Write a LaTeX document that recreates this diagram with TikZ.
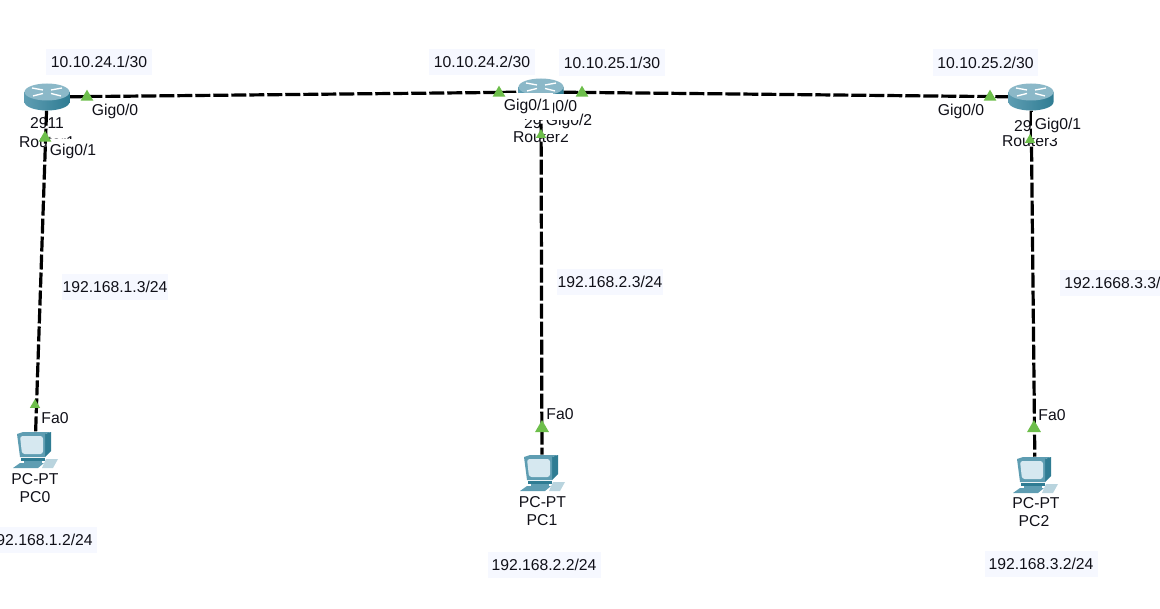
\documentclass[tikz,border=0pt]{standalone}
\usepackage{fontspec}
\setmainfont{Liberation Sans}
\usetikzlibrary{shapes.geometric}
\definecolor{porte}{HTML}{6DBE4B}
\definecolor{fond}{HTML}{F6F8FF}
\definecolor{encre}{HTML}{101018}
\definecolor{sarcelle}{HTML}{2F7C93}
\definecolor{cadre}{HTML}{5E9DB2}
\definecolor{ciel}{HTML}{8BB8C8}
\definecolor{ecran}{HTML}{D6E8F0}
\tikzset{
  devbox/.style={minimum width=33pt,minimum height=20pt,inner sep=0pt},
  pcbox/.style={minimum width=33pt,minimum height=27pt,inner sep=0pt},
  link/.style={black,line width=2.4pt,dash pattern=on 11.25pt off 2.25pt},
  iplabel/.style={fill=fond,text=encre,font=\fontsize{11.8}{14}\selectfont,
    minimum width=79pt,minimum height=20pt,inner sep=0pt},
  devlabel/.style={text=encre,font=\fontsize{11.8}{14}\selectfont,inner sep=0pt},
  portlabel/.style={fill=white,text=encre,font=\fontsize{11.8}{14}\selectfont,
    inner xsep=2.2pt,inner ysep=0pt,minimum height=18.8pt},
  portmark/.style={regular polygon,regular polygon sides=3,fill=porte,inner sep=0pt,minimum size=#1},
  portmark/.default=11pt,
  routericon/.pic={
    \shade[left color=cadre,middle color=ecran,right color=sarcelle]
      (-22.5,-5) -- (-22.5,5) arc[start angle=180,end angle=0,x radius=22.5,y radius=8.5]
      -- (22.5,-5) -- cycle;
    \fill[ciel] (0,-5) ellipse[x radius=22.5,y radius=8.5];
    \draw[white,line width=1pt] (-15,-9) -- (-4,-7) (15,-9) -- (4,-7)
      (-14,-1) -- (-4,-3.5) (14,-1) -- (4,-3.5);
  },
  pcicon/.pic={
    \fill[cadre] (-18,-16) -- (-12,-18) -- (16,-18) -- (10,-16) -- cycle;
    \fill[sarcelle] (10,-16) -- (16,-18) -- (16,1) -- (10,7) -- cycle;
    \fill[cadre] (-18,-16) -- (10,-16) -- (10,7) -- (-15,7) -- cycle;
    \fill[ecran,rounded corners=2pt] (-15,-14) -- (8,-14) -- (8,4) -- (-13,4) -- cycle;
    \fill[sarcelle] (-14,8) -- (10,8) -- (10,11) -- (-14,11) -- cycle;
    \fill[cadre] (-11,11) -- (7,11) -- (7,13) -- (-11,13) -- cycle;
    \fill[cadre] (-22,18) -- (-15,13) -- (9,13) -- (3,18) -- cycle;
    \fill[ciel!60] (11,9) -- (23,9) -- (18,18) -- (7,18) -- cycle;
  }
}

\begin{document}
\begin{tikzpicture}[x=0.75pt,y=-0.75pt]
  \useasboundingbox (0,0) rectangle (1160,609);
  \clip (0,0) rectangle (1160,609);

  % devices
  \node[devbox] at (47,97) (r1) {};
  \node[devbox] at (541,92) (r2) {};
  \node[devbox] at (1031,97) (r3) {};
  \node[pcbox] at (35,450) (pc0) {};
  \node[pcbox] at (542,473) (pc1) {};
  \node[pcbox] at (1035,475) (pc2) {};

  % names under the devices
  \node[devlabel] at (47,123) (r1model) {2911};
  \node[devlabel] at (47,142) (r1name) {Router1};
  \node[devlabel] at (541,123) (r2model) {2911};
  \node[devlabel] at (541,137) (r2name) {Router2};
  \node[devlabel] at (1031,126) (r3model) {2911};
  \node[devlabel] at (1030,141) (r3name) {Router3};
  \node[devlabel] at (35,479) (pc0model) {PC-PT};
  \node[devlabel] at (35,497) (pc0name) {PC0};
  \node[devlabel] at (542.5,502) (pc1model) {PC-PT};
  \node[devlabel] at (542,520) (pc1name) {PC1};
  \node[devlabel] at (1036,503) (pc2model) {PC-PT};
  \node[devlabel] at (1034,521) (pc2name) {PC2};

  % links
  \draw[link] (r1) -- (r2);
  \draw[link] (r2) -- (r3);
  \draw[link] (r1) -- (pc0);
  \draw[link] (r2) -- (pc1);
  \draw[link] (r3) -- (pc2);

  \pic at (r1) {routericon};
  \pic at (r2) {routericon};
  \pic at (r3) {routericon};
  \pic at (pc0) {pcicon};
  \pic at (pc1) {pcicon};
  \pic at (pc2) {pcicon};

  % ports
  \node[portlabel] at (115,111) (r1g0) {Gig0/0};
  \node[portlabel] at (73,151.5) (r1g1) {Gig0/1};
  \node[portlabel] at (569,121) (r2g2) {Gig0/2};
  \node[portlabel] at (554,107) (r2g0) {Gig0/0};
  \node[portlabel] at (527,106) (r2g1) {Gig0/1};
  \node[portlabel] at (961,111) (r3g0) {Gig0/0};
  \node[portlabel] at (1058,125) (r3g1) {Gig0/1};
  \node[portlabel] at (55,418) (pc0fa) {Fa0};
  \node[portlabel] at (560,414) (pc1fa) {Fa0};
  \node[portlabel] at (1052,415) (pc2fa) {Fa0};

  \node[portmark] at (87,97) (m1) {};
  \node[portmark] at (45,138) (m2) {};
  \node[portmark] at (499,93) (m3) {};
  \node[portmark] at (582,93) (m4) {};
  \node[portmark=9pt] at (541,135) (m5) {};
  \node[portmark] at (990,97) (m6) {};
  \node[portmark=9pt] at (1030,140) (m7) {};
  \node[portmark=9pt] at (35,405) (m8) {};
  \node[portmark=12pt] at (542,428) (m9) {};
  \node[portmark=12pt] at (1034,428) (m10) {};

  % addresses
  \node[iplabel] at (99,62) (ip1) {10.10.24.1/30};
  \node[iplabel] at (482,62) (ip2) {10.10.24.2/30};
  \node[iplabel] at (612,62.5) (ip3) {10.10.25.1/30};
  \node[iplabel] at (985.5,62.5) (ip4) {10.10.25.2/30};
  \node[iplabel] at (115,287) (ip5) {192.168.1.3/24};
  \node[iplabel] at (610,282) (ip6) {192.168.2.3/24};
  \node[iplabel,anchor=west,inner xsep=3pt] at (1060,283) (ip7) {192.1668.3.3/24};
  \node[iplabel,anchor=east,inner xsep=3pt] at (97,540) (ip8) {192.168.1.2/24};
  \node[iplabel,inner xsep=3pt] at (544,565) (ip9) {192.168.2.2/24};
  \node[iplabel,inner xsep=3pt] at (1041,564) (ip10) {192.168.3.2/24};
\end{tikzpicture}
\end{document}
